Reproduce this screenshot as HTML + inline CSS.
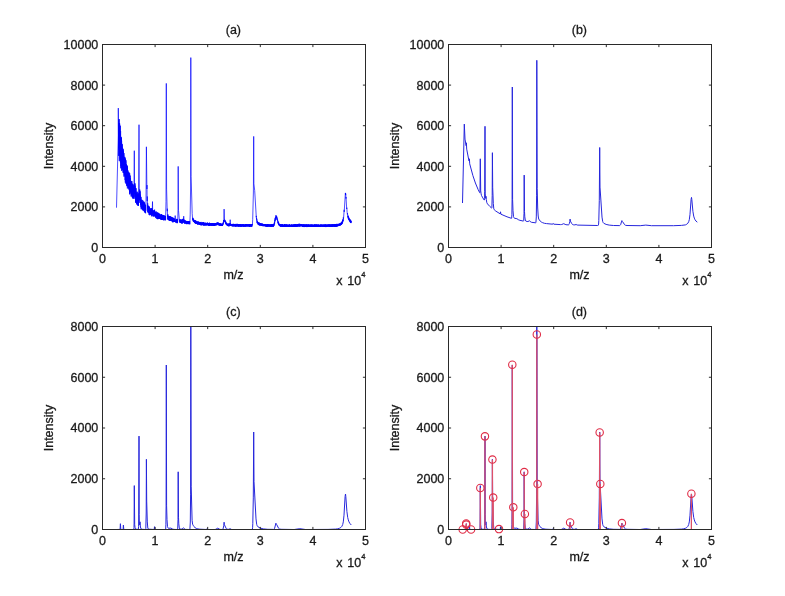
<!DOCTYPE html>
<html><head><meta charset="utf-8"><style>
html,body{margin:0;padding:0;background:#fff;width:785px;height:596px;overflow:hidden}
svg{display:block}
text{font-family:"Liberation Sans",Arial,Helvetica,sans-serif;fill:#1a1a1a;font-size:12.5px;stroke:#1a1a1a;stroke-width:0.3px}
.ax{fill:none;stroke:#2a2a2a;stroke-width:1}
.tk{stroke:#2a2a2a;stroke-width:1}
.cv{fill:none;stroke-width:1;stroke-linejoin:round}
.st{stroke:#de5068;stroke-width:1.3}
.mk{fill:none;stroke:#e02c46;stroke-width:1.1}
</style></head><body>
<svg width="785" height="596" viewBox="0 0 785 596">
<defs>
<clipPath id="ca"><rect x="102.5" y="44.5" width="263" height="203"/></clipPath>
<clipPath id="cb"><rect x="448.5" y="44.5" width="263" height="203"/></clipPath>
<clipPath id="cc"><rect x="102.5" y="326.5" width="263" height="203"/></clipPath>
<clipPath id="cd"><rect x="448.5" y="326.5" width="263" height="203"/></clipPath>
</defs>
<rect width="785" height="596" fill="#fff"/>
<path class="cv" style="stroke-width:0.7" clip-path="url(#ca)" stroke="#0000ff" d="M116.5 207.7L118.3 135.5L118.3 108.1L118.6 155.9L118.7 123.6L118.7 148.0L118.8 119.3L119.0 149.7L119.2 119.1L119.3 161.0L119.3 123.5L119.4 155.6L119.6 123.2L119.6 149.1L119.7 124.6L119.8 153.5L120.0 134.0L120.0 159.5L120.2 133.7L120.4 162.1L120.4 125.8L120.4 162.2L120.6 131.1L120.7 168.3L120.8 146.0L120.9 166.2L121.0 145.4L121.1 162.9L121.4 136.9L121.5 170.8L121.5 138.1L121.5 162.0L121.6 140.6L121.8 164.7L121.9 146.8L121.9 166.3L122.1 144.6L122.1 168.1L122.2 143.9L122.3 168.2L122.4 148.8L122.5 170.2L122.7 148.1L123.0 172.8L123.3 150.8L123.3 171.6L123.4 149.2L123.4 169.8L123.5 152.4L123.6 170.4L123.6 154.8L123.8 172.4L123.8 156.7L123.8 173.0L124.0 153.1L124.1 176.9L124.2 158.8L124.2 175.8L124.3 158.5L124.4 174.5L124.4 157.5L124.5 170.7L124.7 157.4L124.8 171.5L124.8 156.9L124.9 174.4L125.1 158.6L125.1 180.1L125.2 160.1L125.3 182.6L125.4 158.6L125.5 180.1L125.7 161.5L125.9 183.6L126.0 160.2L126.0 181.3L126.1 166.9L126.4 184.2L126.4 166.4L126.4 183.4L126.5 164.2L126.5 180.8L126.5 166.4L126.7 182.5L126.8 165.5L126.8 185.8L127.0 166.5L127.0 186.2L127.1 170.1L127.2 184.8L127.3 167.5L127.4 188.5L127.4 165.7L127.5 183.1L127.5 169.9L127.7 184.5L127.8 170.0L127.9 186.2L128.1 171.3L128.3 183.2L128.3 172.1L128.3 187.9L128.4 173.6L128.6 188.0L128.6 176.7L128.7 189.2L128.8 173.0L129.0 188.2L129.1 172.4L129.2 190.2L129.3 178.8L129.5 191.3L129.5 174.4L129.6 194.4L129.7 173.3L129.8 193.8L129.9 176.0L130.0 191.3L130.1 175.4L130.4 191.7L130.4 178.8L130.5 192.0L130.5 178.0L130.8 193.1L131.1 180.9L131.1 196.5L131.2 181.3L131.2 194.5L131.3 183.2L131.4 194.0L131.6 183.2L131.9 195.4L131.9 181.1L132.0 196.3L132.1 184.3L132.2 197.3L132.4 183.7L132.4 192.9L132.6 185.2L132.7 198.3L132.9 188.7L133.1 198.6L133.1 184.9L133.2 198.2L133.2 184.3L133.4 196.7L133.5 186.5L133.7 198.7L133.9 186.8L133.9 197.1L134.3 150.7L134.6 190.9L134.7 188.7L134.7 194.1L134.7 185.1L134.8 192.7L134.8 183.0L134.9 196.5L134.9 183.8L135.0 199.0L135.1 185.9L135.2 198.0L135.3 188.9L135.5 202.6L135.6 188.0L135.7 202.3L135.7 188.5L135.9 201.7L136.0 188.2L136.2 202.9L136.3 193.1L136.6 203.9L136.6 192.4L136.6 203.0L136.7 194.5L136.9 204.7L137.0 191.5L137.3 203.3L137.3 194.1L137.3 204.2L137.3 194.4L137.4 202.5L137.7 192.2L137.7 205.5L137.7 195.4L137.8 204.7L138.0 196.1L138.0 204.8L138.1 194.7L138.1 205.8L138.2 194.4L138.3 203.7L138.4 193.2L138.5 205.9L139.0 124.7L139.3 198.1L139.5 191.3L139.6 199.9L139.7 189.4L139.8 203.0L139.9 192.0L139.9 200.5L140.1 190.8L140.2 201.9L140.3 194.6L140.5 203.8L140.5 196.3L140.6 204.8L140.6 197.5L140.7 205.2L140.8 199.5L140.9 207.2L141.1 196.9L141.2 209.3L141.3 200.0L141.4 208.4L141.7 199.8L141.8 208.5L142.0 201.8L142.2 208.2L142.2 199.9L142.3 209.5L142.4 202.9L142.7 209.9L142.8 200.3L143.0 210.1L143.2 202.8L143.2 210.9L143.4 201.9L143.5 210.0L143.5 201.4L143.5 210.2L143.7 202.7L143.8 210.1L143.9 204.3L143.9 209.9L144.1 204.6L144.2 211.0L144.3 203.0L144.4 212.0L144.4 201.8L144.5 212.3L144.6 203.2L144.7 210.9L144.9 203.8L145.0 210.9L145.2 205.0L145.3 213.0L145.3 205.9L145.3 212.7L145.4 206.6L145.6 213.3L145.6 204.9L145.8 210.7L146.0 202.0L146.4 146.8L146.9 189.0L147.0 185.1L147.1 198.7L147.2 201.0L147.3 196.5L147.6 208.2L147.7 203.3L147.9 211.6L147.9 205.8L147.9 212.4L148.0 205.5L148.1 212.0L148.3 206.7L148.3 212.8L148.4 206.0L148.6 212.8L148.8 206.2L149.0 213.1L149.0 206.5L149.1 214.7L149.2 208.0L149.3 214.8L149.5 206.9L149.7 215.3L149.7 208.1L149.9 212.7L150.0 208.9L150.0 215.0L150.1 208.6L150.2 214.8L150.2 209.2L150.5 213.6L150.6 210.2L150.7 213.3L150.9 208.4L151.0 215.1L151.1 208.3L151.3 213.9L151.4 208.6L151.5 215.7L151.8 208.5L151.9 216.5L152.0 208.6L152.1 215.6L152.5 201.6L152.7 213.7L152.7 210.0L152.7 214.3L152.9 210.6L153.0 215.8L153.1 210.4L153.2 215.7L153.3 211.0L153.4 216.6L153.7 210.7L153.7 215.9L153.8 212.0L153.9 215.8L154.0 210.8L154.0 215.7L154.1 211.0L154.2 216.6L154.4 210.1L154.4 215.3L154.6 209.6L154.8 216.3L155.0 211.8L155.1 215.6L155.2 212.6L155.3 215.4L155.4 212.3L155.5 217.5L155.5 212.5L155.6 217.0L155.7 211.7L155.9 218.1L156.2 211.4L156.2 215.8L156.3 212.8L156.4 216.5L156.4 213.0L156.6 216.6L156.6 213.1L156.8 217.7L156.9 212.4L156.9 219.0L157.0 213.4L157.2 218.6L157.3 212.5L157.4 218.7L157.7 213.6L157.8 219.3L157.8 212.5L157.9 218.5L158.1 212.9L158.2 218.4L158.2 213.5L158.4 218.9L158.5 214.1L158.5 218.8L158.8 213.1L158.9 218.7L159.0 213.9L159.1 218.5L159.2 214.0L159.3 219.0L159.5 214.3L159.6 218.2L159.6 213.7L159.7 218.7L159.8 214.6L160.0 218.4L160.2 214.9L160.2 218.9L160.3 214.8L160.4 218.6L160.5 214.6L160.6 219.3L160.8 215.0L161.0 219.5L161.0 215.8L161.1 219.6L161.2 214.1L161.4 219.4L161.5 214.7L161.5 219.7L161.6 215.1L161.6 219.9L161.7 214.4L161.7 219.7L161.7 214.5L161.8 219.3L162.1 215.0L162.1 219.4L162.3 215.0L162.5 219.6L162.6 215.8L162.9 219.7L163.0 215.1L163.0 220.0L163.3 217.1L163.3 219.4L163.4 216.3L163.4 220.1L163.5 215.4L163.5 220.3L163.7 215.5L163.8 220.0L163.8 215.7L163.8 219.2L164.1 215.9L164.2 219.9L164.2 215.3L164.5 219.1L164.6 216.4L164.7 219.8L164.9 216.2L165.0 220.5L165.1 216.4L165.3 220.2L165.4 216.1L165.5 219.5L165.5 215.9L165.6 219.9L166.0 201.3L166.3 83.4L166.6 189.1L167.2 209.9L167.3 211.2L167.3 208.7L167.6 216.9L167.8 214.6L167.9 219.1L167.9 214.6L167.9 219.9L168.0 216.5L168.1 219.1L168.4 216.4L168.5 219.4L168.5 216.9L168.5 219.7L168.7 216.1L168.8 220.5L168.8 216.8L168.9 219.9L168.9 216.6L169.2 219.9L169.3 216.5L169.5 220.7L169.5 216.3L169.7 220.7L169.8 216.2L169.9 220.5L170.0 216.2L170.0 220.1L170.0 217.3L170.1 220.3L170.2 217.6L170.2 220.9L170.4 216.4L170.6 220.6L170.7 217.0L170.8 220.6L171.0 217.3L171.1 220.3L171.1 216.8L171.2 220.9L171.2 216.9L171.4 221.1L171.5 217.2L171.5 221.0L171.7 217.4L171.8 221.1L172.0 217.3L172.0 220.9L172.2 217.7L172.2 221.4L172.3 217.8L172.3 221.4L172.4 218.1L172.7 221.0L172.7 218.2L172.8 222.3L172.8 217.6L172.9 222.2L173.0 217.7L173.2 222.1L173.2 218.3L173.4 221.4L173.6 218.4L173.7 221.5L173.7 218.5L174.1 221.9L174.1 218.5L174.1 221.7L174.3 218.6L174.5 221.4L174.5 219.2L174.6 221.6L174.6 219.3L174.9 222.0L175.2 215.6L175.5 222.3L175.6 220.0L175.6 222.3L175.8 219.9L176.0 222.2L176.1 219.8L176.2 221.7L176.2 219.4L176.3 222.5L176.5 219.5L176.8 223.1L176.9 218.8L177.1 222.3L177.1 219.4L177.3 222.2L177.3 219.3L177.3 223.2L177.4 219.5L177.5 223.0L177.5 220.4L177.6 222.2L177.8 219.3L178.0 209.9L178.2 166.4L178.5 210.4L179.5 221.5L179.8 219.4L179.9 222.5L180.0 219.7L180.1 222.8L180.3 219.6L180.3 222.5L180.4 219.7L180.6 222.6L180.7 219.9L180.7 222.6L180.8 219.8L181.1 223.1L181.1 220.0L181.2 222.6L181.4 220.5L181.6 223.3L181.8 219.7L181.8 223.2L182.0 219.6L182.1 223.3L182.1 219.6L182.1 223.4L182.2 219.7L182.3 223.3L182.5 219.7L182.6 222.9L182.9 219.1L183.0 222.5L183.1 218.7L183.1 222.3L183.3 219.4L183.4 222.5L183.7 216.2L184.1 223.1L184.3 219.6L184.3 222.2L184.5 220.0L184.7 223.1L184.8 220.1L184.8 223.7L184.9 220.4L184.9 223.7L185.1 220.6L185.1 222.7L185.2 221.1L185.5 222.2L185.5 220.8L185.7 223.5L185.7 221.3L186.0 223.3L186.0 221.4L186.1 223.3L186.2 221.4L186.4 224.2L186.6 220.9L186.6 223.7L186.9 221.1L186.9 223.8L187.0 222.2L187.1 223.9L187.2 221.8L187.2 223.6L187.2 221.1L187.3 223.9L187.4 221.5L187.6 223.2L187.7 221.3L187.8 223.9L187.9 221.4L188.1 224.3L188.2 221.1L188.2 224.0L188.3 221.5L188.4 223.9L188.4 221.6L188.5 223.8L188.8 221.2L188.9 223.7L188.9 221.4L189.0 224.0L189.2 221.5L189.3 223.7L189.4 221.8L189.6 224.2L189.7 221.1L189.8 224.3L190.2 214.9L190.6 187.0L190.8 57.6L191.1 176.4L192.2 213.7L192.7 219.8L192.9 217.8L192.9 220.1L192.9 218.0L193.1 221.1L193.2 218.9L193.4 221.6L193.4 219.0L193.7 222.0L193.8 220.0L193.9 222.0L194.1 220.0L194.1 221.9L194.1 219.8L194.3 221.8L194.4 220.2L194.4 222.7L194.5 220.3L194.6 222.5L194.6 220.1L194.8 223.1L195.0 221.1L195.2 223.2L195.2 220.7L195.3 222.9L195.3 220.7L195.4 223.2L195.7 220.1L195.7 223.8L195.8 221.7L195.8 223.5L196.0 222.0L196.0 223.3L196.1 221.3L196.3 223.8L196.4 221.4L196.4 223.5L196.7 221.3L196.8 223.8L196.9 222.0L196.9 223.3L197.2 221.9L197.2 223.6L197.2 221.8L197.4 224.3L197.5 221.8L197.5 224.5L197.7 221.6L197.7 223.6L197.7 221.9L198.0 223.9L198.0 221.6L198.1 224.6L198.2 222.0L198.2 223.9L198.3 222.0L198.4 223.9L198.5 221.8L198.7 224.4L198.7 221.8L198.8 224.3L198.8 221.8L198.9 224.2L199.0 222.0L199.1 224.2L199.2 222.4L199.4 224.3L199.5 222.5L199.6 224.4L199.6 222.3L199.8 223.9L199.8 222.6L199.8 224.9L199.9 222.3L200.1 224.7L200.2 222.2L200.3 224.8L200.3 222.3L200.6 224.4L200.7 222.4L200.7 224.8L200.8 222.3L201.0 225.4L201.1 221.9L201.3 225.4L201.5 222.7L201.6 224.5L201.7 222.8L202.0 224.5L202.2 223.1L202.2 224.9L202.4 222.4L202.5 224.7L202.7 222.8L202.8 225.0L202.8 222.6L203.0 224.8L203.0 222.5L203.1 225.2L203.2 222.7L203.2 225.5L203.3 222.4L203.4 225.3L203.4 222.8L203.5 225.1L203.6 222.6L203.7 224.9L203.8 222.6L204.0 225.3L204.1 222.6L204.2 225.3L204.3 222.9L204.4 225.1L204.4 223.3L204.6 224.6L204.7 223.5L204.7 225.5L204.9 223.3L205.1 225.4L205.1 223.1L205.2 225.2L205.3 222.9L205.4 224.9L205.4 222.7L205.6 225.2L205.7 223.5L205.8 225.4L205.9 222.9L206.1 224.9L206.2 223.4L206.2 225.1L206.3 223.2L206.4 225.4L206.5 223.0L206.6 225.3L206.9 223.1L207.0 224.7L207.3 222.4L207.3 225.1L207.5 222.9L207.6 224.8L207.6 223.1L207.7 224.8L207.8 223.3L208.0 225.1L208.0 223.5L208.0 225.7L208.1 223.4L208.3 225.5L208.4 223.5L208.5 225.5L208.5 223.6L208.6 225.2L208.8 223.4L209.0 225.1L209.1 223.4L209.1 225.7L209.2 222.9L209.2 225.1L209.2 223.4L209.4 225.7L209.4 223.2L209.5 225.6L209.5 222.7L209.5 225.7L209.8 223.0L209.8 225.2L209.9 223.1L209.9 224.7L210.1 223.4L210.3 225.3L210.5 223.9L210.8 225.7L210.8 223.5L210.9 225.7L210.9 223.2L211.0 225.7L211.1 223.1L211.2 225.2L211.3 223.3L211.4 225.5L211.6 223.2L211.6 225.7L211.7 223.3L211.8 224.9L211.9 223.4L212.0 225.0L212.3 223.2L212.4 225.5L212.5 223.4L212.7 225.7L212.7 223.3L212.8 225.7L213.0 223.9L213.1 225.7L213.1 223.8L213.2 225.7L213.5 223.4L213.6 225.8L213.7 223.2L213.8 225.8L214.0 223.3L214.0 225.9L214.1 224.2L214.1 225.8L214.2 224.2L214.3 225.6L214.3 223.4L214.4 225.3L214.4 223.6L214.5 225.5L214.6 223.4L214.8 225.8L214.8 223.6L215.1 225.9L215.4 223.3L215.4 224.7L215.6 223.4L215.7 224.9L215.8 223.2L215.9 225.4L215.9 223.7L216.1 225.2L216.2 223.1L216.5 225.2L216.8 222.7L216.9 225.2L217.1 222.6L217.2 225.0L217.3 223.0L217.4 224.0L217.5 222.8L217.6 224.1L217.6 222.7L217.8 224.8L217.9 222.6L218.1 224.4L218.2 222.4L218.4 225.3L218.6 223.3L218.8 225.2L218.9 223.4L219.0 225.2L219.0 223.2L219.0 225.0L219.1 223.5L219.3 224.9L219.3 223.3L219.5 224.9L219.5 223.3L219.7 225.7L219.8 223.5L219.9 225.7L220.0 223.4L220.2 225.9L220.2 223.3L220.3 225.8L220.4 223.6L220.5 225.8L220.6 223.6L220.9 225.8L221.1 223.9L221.4 226.0L221.6 223.6L221.9 225.9L222.0 223.8L222.1 225.7L222.1 224.0L222.3 225.6L222.4 223.8L222.4 226.0L222.4 223.9L222.6 225.6L222.9 223.4L223.0 225.0L223.1 222.7L223.3 223.9L223.4 222.1L223.4 223.2L223.5 220.7L223.6 222.6L223.7 220.0L223.7 222.3L223.8 220.0L223.8 221.3L224.1 209.1L224.5 221.3L224.6 219.5L224.7 221.6L224.9 220.3L225.0 222.1L225.2 220.4L225.5 223.3L225.6 221.0L225.9 224.0L226.0 222.3L226.2 224.3L226.2 222.5L226.2 224.6L226.2 223.0L226.5 224.9L226.7 223.1L226.7 225.0L227.0 223.7L227.1 225.6L227.2 223.8L227.3 225.5L227.6 223.8L227.6 226.0L227.8 223.9L227.9 225.9L228.1 224.0L228.2 226.1L228.2 223.7L228.3 226.1L228.4 223.8L228.7 226.1L228.9 223.8L228.9 226.2L229.0 223.5L229.1 226.3L229.2 223.9L229.3 225.8L229.4 224.2L229.5 225.0L229.6 223.7L229.6 224.9L229.6 223.7L229.7 225.0L229.8 223.4L229.9 225.4L230.2 219.7L230.5 225.4L230.5 223.6L230.6 225.6L230.8 223.8L230.9 225.9L230.9 224.2L231.1 225.7L231.1 224.4L231.2 225.8L231.4 224.2L231.6 225.8L231.7 224.0L231.9 226.3L232.0 224.6L232.2 225.8L232.4 224.2L232.4 225.9L232.5 224.1L232.8 226.4L232.9 223.9L232.9 226.2L233.0 225.4L233.1 226.5L233.3 223.8L233.4 226.2L233.4 224.3L233.6 226.0L233.6 224.9L233.8 226.0L233.8 224.1L234.1 226.1L234.1 224.1L234.2 226.4L234.4 224.1L234.5 226.2L234.6 224.2L234.8 226.0L234.8 224.2L234.9 226.4L235.0 224.2L235.2 225.9L235.2 223.9L235.4 226.5L235.5 224.2L235.7 226.5L235.8 224.3L235.8 226.5L235.9 224.9L236.1 226.2L236.2 224.5L236.3 226.2L236.4 224.4L236.4 226.3L236.5 224.6L236.8 226.2L237.0 223.8L237.1 226.6L237.1 223.9L237.2 225.7L237.5 224.1L237.6 226.3L237.6 224.8L237.8 226.1L237.9 224.6L238.0 226.0L238.1 224.8L238.2 226.5L238.3 224.0L238.3 226.5L238.5 224.0L238.5 226.6L238.6 224.2L238.8 226.4L239.1 224.2L239.3 226.4L239.3 224.1L239.4 226.3L239.8 224.5L239.9 226.7L240.1 224.1L240.1 226.6L240.2 224.4L240.3 226.5L240.4 224.1L240.5 226.3L240.7 224.1L240.7 226.4L240.7 224.4L240.9 226.4L241.0 224.9L241.1 226.3L241.3 224.2L241.5 226.6L241.5 224.9L241.7 226.2L241.8 224.6L241.9 226.3L242.0 224.3L242.0 226.6L242.1 224.8L242.2 226.5L242.3 224.4L242.4 226.1L242.5 224.8L242.5 226.0L242.7 224.9L242.8 226.2L242.8 224.3L243.0 226.4L243.2 224.3L243.4 226.6L243.5 224.6L243.7 226.4L243.8 224.3L243.8 226.6L243.9 224.4L244.0 226.7L244.0 224.8L244.3 226.2L244.5 225.1L244.5 226.4L244.7 224.8L244.7 226.2L244.7 225.2L244.9 226.2L244.9 224.4L245.0 226.5L245.2 224.2L245.2 226.6L245.5 224.2L245.6 226.5L245.7 224.6L245.8 226.3L245.8 224.7L246.0 225.9L246.1 224.3L246.1 226.5L246.3 224.1L246.4 226.2L246.7 224.2L246.8 226.5L247.0 224.5L247.1 226.5L247.2 224.3L247.3 226.0L247.4 224.9L247.5 226.0L247.6 224.5L247.7 226.3L247.8 224.5L247.9 226.5L248.1 224.2L248.3 226.5L248.6 224.6L248.6 226.0L248.6 224.4L248.9 226.6L249.0 224.5L249.2 226.3L249.2 224.2L249.4 226.5L249.6 224.2L249.6 226.8L249.7 224.2L249.8 226.7L250.0 224.3L250.0 226.5L250.2 224.6L250.4 226.5L250.4 224.3L250.5 226.5L250.6 224.9L250.7 226.0L250.8 224.8L250.9 225.7L251.0 224.7L251.0 226.6L251.4 224.4L251.5 226.8L251.6 224.2L251.7 226.4L251.9 224.5L252.0 226.5L252.3 224.0L252.4 224.9L252.7 219.5L253.4 192.0L253.7 136.4L253.9 183.8L254.7 190.6L256.3 217.4L256.3 215.9L256.5 219.3L256.6 218.0L256.7 220.6L256.8 219.1L257.1 222.6L257.2 220.8L257.2 223.2L257.4 221.3L257.4 222.9L257.6 221.8L257.8 224.2L258.1 222.5L258.1 224.5L258.2 222.5L258.5 224.4L258.5 222.7L258.6 224.8L258.7 222.6L258.7 225.0L258.8 222.9L258.9 224.8L259.0 222.7L259.0 224.9L259.1 222.6L259.3 225.4L259.4 223.2L259.4 225.4L259.7 223.3L259.9 225.4L260.1 223.1L260.4 225.6L260.6 223.3L260.6 224.9L260.8 223.6L260.9 225.2L261.0 223.7L261.0 225.3L261.1 223.5L261.2 225.7L261.2 223.8L261.2 225.7L261.3 223.7L261.5 225.5L261.7 224.1L261.8 225.7L262.0 223.7L262.1 225.8L262.3 223.7L262.3 225.8L262.3 223.8L262.6 226.2L262.8 223.8L263.1 226.0L263.2 224.7L263.4 225.9L263.4 224.3L263.5 225.7L263.6 224.9L263.6 226.2L263.8 224.3L263.9 226.1L264.1 224.3L264.2 226.0L264.2 224.4L264.3 226.2L264.6 224.3L264.6 225.7L264.7 224.2L264.9 226.2L265.2 224.3L265.3 226.3L265.6 224.0L265.8 226.4L265.8 224.4L265.9 226.5L266.1 224.7L266.2 226.7L266.3 224.6L266.5 226.5L266.6 224.4L266.6 226.3L266.7 224.7L266.9 226.4L267.2 224.5L267.3 226.5L267.4 224.7L267.4 226.6L267.4 224.2L267.5 226.2L267.6 224.4L267.9 226.6L267.9 224.1L268.0 226.8L268.1 224.6L268.2 226.0L268.3 224.4L268.3 226.2L268.5 224.8L268.7 225.9L268.7 224.8L268.9 226.8L269.1 224.4L269.2 226.5L269.2 224.5L269.2 226.4L269.5 224.4L269.6 226.3L269.7 225.0L269.8 226.3L270.0 224.9L270.1 226.6L270.3 224.8L270.4 226.5L270.5 224.5L270.6 226.8L270.6 224.5L270.6 226.4L270.7 224.7L271.0 226.3L271.1 225.0L271.2 226.4L271.5 224.2L271.5 227.0L271.6 224.4L271.8 226.7L271.8 224.7L272.0 226.6L272.1 224.5L272.1 226.0L272.3 224.6L272.4 226.4L272.6 224.5L272.6 226.2L272.9 224.7L273.0 226.8L273.1 224.6L273.1 226.7L273.2 224.3L273.3 226.5L273.4 224.8L273.4 226.3L273.7 224.5L273.8 225.9L273.8 223.8L273.8 225.8L273.9 223.8L274.1 225.3L274.4 222.3L274.5 224.1L274.5 221.9L274.6 223.7L274.8 220.4L274.8 221.8L275.0 219.7L275.0 220.9L275.2 218.3L275.2 220.3L275.3 217.9L275.4 219.6L275.4 217.1L275.7 218.1L276.0 215.0L276.1 217.4L276.2 216.2L276.3 217.8L276.4 216.4L276.6 218.3L276.7 216.4L277.0 219.6L277.0 217.5L277.1 219.8L277.2 218.7L277.6 221.4L277.6 219.6L278.0 222.7L278.1 221.6L278.2 223.6L278.2 221.5L278.3 223.4L278.3 222.1L278.4 223.5L278.5 222.6L278.5 224.4L278.6 222.3L278.8 225.0L278.9 223.9L279.2 225.5L279.2 223.7L279.3 225.3L279.4 223.9L279.4 225.7L279.5 224.3L279.8 226.1L279.9 224.2L280.1 226.2L280.1 224.3L280.3 226.4L280.3 224.6L280.5 226.3L280.6 224.9L280.6 226.5L280.8 224.1L280.8 226.6L280.9 224.7L281.2 226.6L281.2 224.4L281.3 226.4L281.5 224.8L281.6 226.7L281.8 224.4L281.9 226.5L282.0 224.4L282.1 226.2L282.2 224.6L282.5 226.2L282.5 224.6L282.6 226.8L282.7 224.6L282.8 226.6L282.9 224.6L282.9 226.4L282.9 224.6L283.1 226.6L283.1 225.0L283.2 226.4L283.4 224.9L283.4 226.6L283.5 225.0L283.5 226.6L283.8 225.3L283.9 226.8L284.0 224.9L284.0 226.6L284.1 224.8L284.2 226.4L284.2 224.5L284.3 226.4L284.5 224.5L284.5 227.0L284.6 224.4L284.7 226.7L284.9 224.5L285.0 226.9L285.0 224.4L285.1 227.0L285.2 224.3L285.3 226.8L285.4 224.9L285.5 226.4L285.7 224.9L285.8 226.4L285.9 224.9L286.0 226.5L286.0 224.9L286.1 226.6L286.3 224.9L286.4 226.9L286.5 225.0L286.5 226.8L286.6 224.5L286.7 227.0L286.7 224.4L286.8 226.4L286.8 224.7L286.9 226.6L287.1 225.0L287.2 226.9L287.3 224.7L287.3 226.2L287.4 224.9L287.7 226.4L287.9 224.7L287.9 226.6L288.1 224.8L288.1 226.4L288.2 225.1L288.2 226.5L288.4 225.2L288.5 226.7L288.6 224.7L288.8 226.8L289.2 224.8L289.2 226.7L289.3 224.6L289.4 227.0L289.4 224.4L289.5 226.8L289.7 224.4L289.8 226.5L289.9 225.2L290.0 226.1L290.1 225.2L290.2 226.4L290.4 225.1L290.4 226.9L290.7 224.7L290.8 226.4L290.9 225.1L291.0 226.4L291.1 224.9L291.1 226.5L291.3 224.7L291.5 226.5L291.7 224.5L291.7 226.7L291.8 224.6L291.9 226.6L292.1 224.8L292.2 226.6L292.3 225.0L292.4 226.7L292.4 224.8L292.6 226.6L292.9 224.8L292.9 226.5L293.0 224.7L293.1 226.7L293.2 225.3L293.2 226.7L293.3 224.8L293.3 226.2L293.5 224.8L293.6 226.9L293.6 224.9L293.8 226.4L293.8 224.7L293.9 226.6L294.0 224.5L294.0 227.0L294.2 224.4L294.2 226.7L294.4 224.6L294.4 226.3L294.6 224.8L294.8 226.9L294.9 224.4L295.1 227.0L295.2 224.3L295.2 227.0L295.3 224.4L295.4 226.2L295.4 224.6L295.4 226.1L295.5 224.7L295.5 226.2L295.5 224.8L295.7 226.4L295.9 225.1L295.9 226.6L295.9 224.7L296.0 226.6L296.0 224.8L296.1 226.4L296.2 224.7L296.4 226.6L296.4 224.5L296.6 226.5L296.6 224.7L296.7 226.7L296.8 224.2L297.1 226.6L297.2 224.9L297.4 226.1L297.5 224.3L297.5 226.5L297.6 224.2L297.7 226.5L297.9 224.4L297.9 226.2L297.9 224.1L298.1 226.3L298.2 225.1L298.4 226.1L298.5 224.8L298.7 226.1L298.7 224.1L298.9 226.4L299.0 223.8L299.0 226.7L299.2 223.8L299.3 226.2L299.3 224.1L299.3 226.2L299.4 224.3L299.5 226.2L299.5 224.1L299.6 226.1L299.7 224.0L299.8 226.2L299.9 223.9L300.1 226.2L300.1 224.5L300.1 225.9L300.2 224.5L300.4 226.1L300.6 224.2L300.6 226.3L300.6 224.3L300.9 226.2L301.0 224.4L301.2 226.2L301.2 224.5L301.2 226.2L301.5 224.3L301.5 226.0L301.6 224.1L301.9 226.4L302.1 224.5L302.4 226.4L302.5 224.9L302.5 226.4L302.6 224.8L302.6 226.7L302.7 224.2L302.7 226.7L302.8 225.0L302.9 226.4L302.9 224.9L303.1 226.3L303.3 224.8L303.4 226.7L303.5 224.5L303.6 226.8L303.6 224.6L303.8 226.4L303.9 224.6L304.1 227.1L304.2 224.4L304.2 226.6L304.4 224.8L304.5 226.4L304.6 224.7L304.6 226.6L304.7 224.7L304.8 226.4L304.8 224.9L305.1 226.6L305.1 225.2L305.2 226.9L305.3 225.1L305.5 227.0L305.6 224.6L305.8 226.8L305.9 224.6L305.9 226.9L305.9 224.7L306.0 226.2L306.1 224.7L306.1 226.4L306.2 224.6L306.2 226.9L306.3 224.6L306.4 226.4L306.5 224.8L306.6 226.6L306.7 224.9L306.9 227.1L307.1 224.5L307.2 226.7L307.2 225.0L307.4 226.4L307.5 224.7L307.7 226.8L308.0 224.3L308.0 226.8L308.2 224.5L308.2 226.8L308.2 225.2L308.2 226.9L308.5 224.9L308.5 226.7L308.7 224.7L308.7 226.9L308.8 224.6L308.9 226.4L309.1 225.1L309.1 226.5L309.3 224.8L309.3 226.6L309.4 224.8L309.4 225.8L309.5 224.9L309.7 225.9L309.8 225.1L309.9 226.8L310.0 225.1L310.1 226.9L310.1 224.6L310.2 226.8L310.2 224.8L310.4 226.6L310.6 224.7L310.6 226.7L310.8 224.9L311.0 226.5L311.0 224.7L311.2 226.8L311.3 224.5L311.4 226.6L311.4 224.8L311.6 226.6L311.7 224.7L311.8 226.6L311.9 224.9L312.1 226.4L312.2 224.8L312.5 226.6L312.5 224.8L312.7 226.9L312.8 224.6L313.0 226.9L313.0 224.6L313.2 226.9L313.2 225.2L313.5 226.7L313.6 224.9L313.7 226.7L313.8 224.8L313.8 226.5L314.1 225.0L314.3 226.6L314.3 224.6L314.5 227.0L314.6 224.5L314.6 226.8L314.7 224.8L314.8 226.7L314.8 224.8L314.9 226.7L315.0 224.7L315.2 226.3L315.2 224.7L315.2 227.0L315.3 224.6L315.4 227.0L315.7 224.8L315.7 226.5L315.7 224.8L315.8 226.7L315.9 225.0L316.1 226.6L316.1 224.8L316.1 226.4L316.3 224.8L316.4 226.6L316.5 224.7L316.7 226.6L316.7 224.5L316.8 226.8L316.9 224.8L317.1 226.5L317.2 224.5L317.3 226.9L317.4 224.7L317.6 226.6L317.8 224.9L317.9 226.6L318.0 225.0L318.1 226.8L318.3 224.6L318.4 226.4L318.6 224.6L318.6 226.7L318.7 224.9L318.8 226.7L318.9 224.7L319.2 226.6L319.2 224.9L319.2 226.5L319.4 225.0L319.4 226.3L319.5 224.9L319.6 226.6L319.8 224.9L319.8 226.7L319.8 225.1L319.9 226.6L319.9 225.4L320.1 226.6L320.3 224.7L320.4 226.7L320.5 224.6L320.7 226.7L320.7 225.1L320.8 226.6L320.8 224.9L320.9 226.0L321.1 224.7L321.1 226.9L321.2 224.7L321.2 226.1L321.3 224.6L321.3 226.1L321.4 224.9L321.6 226.5L321.6 225.2L321.8 226.3L322.0 224.5L322.3 226.5L322.4 224.8L322.4 226.7L322.6 224.7L322.6 226.5L322.8 225.2L323.0 226.6L323.1 225.0L323.1 226.5L323.3 224.5L323.6 226.7L323.6 225.4L323.7 226.0L323.7 224.8L323.8 226.5L323.9 224.8L324.0 226.7L324.1 224.7L324.2 226.3L324.3 224.7L324.3 227.0L324.4 224.8L324.7 226.4L324.8 224.7L324.8 226.5L324.9 224.8L325.0 226.6L325.2 224.9L325.2 226.6L325.3 224.6L325.4 227.0L325.5 224.9L325.8 227.1L325.8 224.3L325.9 227.0L326.0 224.4L326.1 226.9L326.2 225.3L326.4 226.7L326.5 224.9L326.5 226.8L326.9 224.7L327.2 226.0L327.2 224.7L327.3 226.5L327.3 224.8L327.5 226.5L327.6 224.8L327.6 226.6L327.8 225.0L327.9 226.4L327.9 224.7L328.0 226.6L328.2 224.4L328.3 226.3L328.4 224.7L328.7 226.9L328.8 224.5L328.9 226.3L328.9 224.7L329.1 226.4L329.3 224.4L329.5 226.8L329.7 224.9L329.8 226.9L329.8 224.4L329.9 226.7L330.0 224.6L330.1 226.5L330.2 224.9L330.2 226.4L330.2 224.9L330.3 226.4L330.4 225.8L330.5 226.4L330.5 224.8L330.8 226.9L330.9 224.5L331.0 227.0L331.0 224.6L331.3 226.8L331.3 224.6L331.4 226.7L331.7 224.4L331.7 226.7L331.8 224.6L331.9 226.7L332.2 224.6L332.4 226.5L332.5 224.5L332.5 226.6L332.6 224.6L332.6 226.5L332.7 224.6L333.0 226.4L333.0 224.6L333.1 226.2L333.3 224.7L333.3 226.5L333.5 224.7L333.7 226.5L333.8 224.4L333.8 226.4L333.9 224.3L334.0 226.5L334.3 224.4L334.3 226.7L334.4 224.3L334.4 226.0L334.6 224.6L334.7 226.5L334.8 224.3L334.9 226.6L335.1 224.4L335.1 226.7L335.1 224.9L335.3 226.5L335.4 224.3L335.4 226.2L335.6 224.3L335.7 226.7L335.8 224.0L336.0 226.4L336.2 224.5L336.2 226.3L336.2 224.6L336.3 226.4L336.4 224.7L336.5 226.5L336.7 224.5L336.7 225.9L336.8 223.9L336.9 226.7L336.9 223.9L337.1 226.3L337.2 224.5L337.4 226.0L337.4 224.2L337.5 225.9L337.5 224.1L337.6 226.3L337.6 224.0L337.7 226.1L337.8 224.4L338.0 225.9L338.2 223.8L338.3 226.1L338.4 223.9L338.4 225.5L338.5 224.3L338.6 225.8L338.7 224.2L338.9 225.8L339.1 223.9L339.2 225.7L339.3 223.9L339.6 225.7L339.7 223.5L339.8 225.2L340.0 223.6L340.0 225.3L340.1 223.5L340.1 225.5L340.2 223.7L340.3 225.2L340.4 223.5L340.5 225.1L340.6 223.7L340.6 225.1L340.9 223.6L341.0 224.9L341.2 222.4L341.3 224.9L341.4 222.5L341.4 224.6L341.6 222.4L341.8 224.2L341.9 221.8L342.0 223.8L342.1 222.0L342.2 223.5L342.2 221.4L342.3 223.2L342.4 221.2L342.6 222.1L342.6 220.2L342.7 222.2L342.7 220.2L342.8 221.1L342.8 219.8L343.0 221.3L343.1 219.0L343.1 220.7L343.3 217.4L343.5 218.9L344.2 209.8L344.2 211.9L345.4 192.9L345.5 194.9L345.5 193.1L345.6 195.0L345.7 193.6L346.0 198.5L346.0 197.1L346.7 208.9L346.8 207.7L347.1 212.1L347.4 214.5L347.5 213.1L347.9 217.0L348.0 215.5L348.2 218.0L348.2 216.4L348.3 218.8L348.3 216.3L348.5 219.4L348.6 218.0L348.6 219.3L348.6 217.7L348.8 219.0L348.9 217.6L349.0 220.1L349.1 218.4L349.2 220.3L349.2 218.9L349.4 220.5L349.5 219.2L349.5 220.8L349.5 219.2L349.7 221.3L349.8 219.7L349.9 221.7L350.0 219.7L350.3 222.1L350.3 219.8L350.4 222.6L350.5 219.8L350.6 222.6L350.6 220.9L350.6 222.5L350.8 220.8L350.8 222.5L351.0 220.7L351.0 223.1L351.3 221.1"/>
<path class="cv" clip-path="url(#cb)" stroke="#2626dc" d="M462.5 203.0L464.3 124.1L465.0 139.1L466.1 145.7L466.4 142.8L466.7 149.1L468.4 158.0L469.1 161.0L469.4 158.8L469.7 163.8L472.9 175.6L475.4 183.0L478.1 189.5L479.7 192.7L479.9 192.5L480.0 191.8L480.3 158.8L480.7 190.8L481.1 193.9L481.5 195.5L482.8 197.9L484.3 200.1L484.6 198.3L484.7 191.6L485.0 126.3L485.2 193.9L485.6 198.1L485.7 198.4L485.8 198.3L486.0 196.3L486.3 199.6L486.8 202.6L487.5 203.9L489.9 206.5L491.6 208.1L491.9 207.5L492.2 195.4L492.4 152.7L492.7 187.4L493.3 203.4L493.8 208.9L494.2 209.7L495.8 211.1L500.1 213.8L500.2 213.8L500.3 213.6L500.5 211.8L500.9 214.2L507.0 216.8L511.4 218.3L511.7 218.2L511.9 214.3L512.1 199.9L512.3 87.0L512.6 199.7L513.0 210.7L513.5 216.5L513.9 217.7L514.7 218.3L516.9 218.7L518.7 219.9L519.9 220.3L523.4 221.1L523.7 220.8L524.0 213.4L524.2 175.1L524.5 211.5L524.8 216.8L525.3 220.1L525.7 221.0L527.1 221.5L528.0 221.5L529.5 220.8L530.9 222.0L531.5 222.3L535.6 222.8L535.9 222.7L536.3 216.9L536.6 195.2L536.8 60.3L537.2 188.3L537.7 208.0L538.2 216.0L538.7 219.0L540.2 221.1L541.3 222.0L542.7 222.7L544.4 223.3L546.6 223.6L552.7 224.2L553.2 223.4L553.7 224.2L560.6 224.6L561.7 224.5L563.7 223.7L565.9 224.7L568.4 224.9L568.9 224.6L569.3 223.7L569.8 221.6L570.1 219.1L570.4 221.1L571.7 223.5L572.4 224.4L573.3 224.8L574.9 224.9L576.1 224.5L577.1 225.0L577.9 225.1L597.6 225.5L598.3 225.3L598.6 224.1L598.8 220.5L599.3 200.3L599.7 147.5L600.0 187.1L602.0 217.1L602.7 221.5L603.2 222.6L603.8 223.3L606.1 224.4L609.2 225.1L613.6 225.5L619.5 225.6L620.1 225.3L620.6 224.7L621.9 220.6L622.2 221.3L622.7 221.8L624.6 224.7L625.5 225.3L627.0 225.5L640.2 225.7L645.8 225.1L651.5 225.7L673.5 225.7L681.4 225.4L685.4 224.9L686.8 224.2L687.9 223.2L688.7 221.7L689.3 219.7L690.0 214.3L691.1 199.3L691.5 197.4L691.8 199.4L692.9 211.3L693.7 216.1L694.3 218.1L695.0 219.7L696.0 221.1L697.3 222.2"/>
<path class="cv" clip-path="url(#cc)" stroke="#2626dc" d="M116.5 529.5L120.1 529.4L120.4 523.7L120.8 529.5L123.1 529.5L123.4 525.1L123.8 529.5L133.4 529.5L133.8 529.3L134.0 527.6L134.1 523.1L134.3 485.6L134.7 524.7L135.1 527.8L135.5 528.9L136.1 529.2L138.1 529.4L138.4 529.0L138.6 526.6L138.7 518.0L139.0 436.1L139.2 514.7L139.3 522.0L139.6 524.9L139.7 525.0L139.8 524.7L140.0 521.8L140.3 526.0L140.7 528.1L141.1 528.9L142.2 529.3L145.5 529.5L145.7 529.3L145.8 528.7L146.2 513.0L146.4 459.3L146.7 501.1L147.3 521.9L147.8 528.1L148.1 528.8L149.2 529.2L154.2 529.5L154.5 526.7L154.9 529.5L165.4 529.5L165.7 529.2L165.9 524.3L166.1 506.2L166.3 365.0L166.6 505.8L167.0 519.4L167.5 526.5L167.9 527.8L168.6 528.3L170.9 528.1L172.7 529.1L173.9 529.4L177.4 529.5L177.7 529.1L178.0 519.7L178.2 471.8L178.5 517.2L178.8 523.8L179.3 527.9L179.7 528.9L181.0 529.2L182.0 529.1L183.5 527.9L184.9 529.1L185.5 529.4L189.6 529.5L189.9 529.3L190.3 522.0L190.6 494.9L190.8 326.2L191.2 486.2L192.1 520.3L192.6 524.2L193.1 525.2L193.9 526.5L195.0 527.6L196.3 528.4L197.9 528.9L199.9 529.2L206.7 529.5L207.2 528.5L207.7 529.5L214.7 529.5L215.8 529.3L217.7 528.2L219.9 529.4L222.4 529.5L222.9 529.1L223.3 528.0L223.8 525.3L224.1 522.2L224.4 524.7L226.1 528.3L226.6 528.9L227.3 529.2L228.8 529.3L230.1 528.7L231.1 529.3L231.8 529.5L251.7 529.5L252.3 529.3L252.6 527.8L252.8 523.3L253.3 497.9L253.7 432.0L254.0 481.5L256.0 518.9L256.7 524.4L257.2 525.8L257.8 526.7L260.1 528.0L263.2 528.9L267.6 529.3L273.6 529.4L274.1 529.1L274.6 528.3L275.9 523.2L276.2 524.0L276.7 524.6L278.6 528.3L279.5 529.0L281.0 529.3L294.2 529.5L299.8 528.7L305.5 529.5L328.0 529.4L335.6 529.1L337.8 528.8L339.4 528.3L340.8 527.5L341.9 526.3L342.7 524.5L343.3 521.9L344.0 515.2L345.1 496.4L345.5 494.0L345.8 496.5L346.9 511.4L347.7 517.4L348.3 519.9L349.0 521.9L350.0 523.6L351.3 525.0"/>
<path class="cv" clip-path="url(#cd)" stroke="#2626dc" d="M462.5 529.5L466.1 529.4L466.4 523.7L466.8 529.5L469.1 529.5L469.4 525.1L469.8 529.5L479.4 529.5L479.8 529.3L480.0 527.6L480.1 523.1L480.3 485.6L480.7 524.7L481.1 527.8L481.5 528.9L482.1 529.2L484.1 529.4L484.4 529.0L484.6 526.6L484.7 518.0L485.0 436.1L485.2 514.7L485.3 522.0L485.6 524.9L485.7 525.0L485.8 524.7L486.0 521.8L486.3 526.0L486.7 528.1L487.1 528.9L488.2 529.3L491.5 529.5L491.7 529.3L491.8 528.7L492.2 513.0L492.4 459.3L492.7 501.1L493.3 521.9L493.8 528.1L494.1 528.8L495.2 529.2L500.2 529.5L500.5 526.7L500.9 529.5L511.4 529.5L511.7 529.2L511.9 524.3L512.1 506.2L512.3 365.0L512.6 505.8L513.0 519.4L513.5 526.5L513.9 527.8L514.6 528.3L516.9 528.1L518.7 529.1L519.9 529.4L523.4 529.5L523.7 529.1L524.0 519.7L524.2 471.8L524.5 517.2L524.8 523.8L525.3 527.9L525.7 528.9L527.0 529.2L528.0 529.1L529.5 527.9L530.9 529.1L531.5 529.4L535.6 529.5L535.9 529.3L536.3 522.0L536.6 494.9L536.8 326.2L537.2 486.2L538.1 520.3L538.6 524.2L539.1 525.2L539.9 526.5L541.0 527.6L542.3 528.4L543.9 528.9L545.9 529.2L552.7 529.5L553.2 528.5L553.7 529.5L560.7 529.5L561.8 529.3L563.7 528.2L565.9 529.4L568.4 529.5L568.9 529.1L569.3 528.0L569.8 525.3L570.1 522.2L570.4 524.7L572.1 528.3L572.6 528.9L573.3 529.2L574.8 529.3L576.1 528.7L577.1 529.3L577.8 529.5L597.7 529.5L598.3 529.3L598.6 527.8L598.8 523.3L599.3 497.9L599.7 432.0L600.0 481.5L602.0 518.9L602.7 524.4L603.2 525.8L603.8 526.7L606.1 528.0L609.2 528.9L613.6 529.3L619.6 529.4L620.1 529.1L620.6 528.3L621.9 523.2L622.2 524.0L622.7 524.6L624.6 528.3L625.5 529.0L627.0 529.3L640.2 529.5L645.8 528.7L651.5 529.5L674.0 529.4L681.6 529.1L683.8 528.8L685.4 528.3L686.8 527.5L687.9 526.3L688.7 524.5L689.3 521.9L690.0 515.2L691.1 496.4L691.5 494.0L691.8 496.5L692.9 511.4L693.7 517.4L694.3 519.9L695.0 521.9L696.0 523.6L697.3 525.0"/>
<line class="st" x1="484.95" y1="529.5" x2="484.95" y2="436.37"/><circle class="mk" cx="484.95" cy="436.37" r="3.7"/>
<line class="st" x1="480.32" y1="529.5" x2="480.32" y2="488.01"/><circle class="mk" cx="480.32" cy="488.01" r="3.7"/>
<line class="st" x1="492.42" y1="529.5" x2="492.42" y2="459.59"/><circle class="mk" cx="492.42" cy="459.59" r="3.7"/>
<line class="st" x1="493.21" y1="529.5" x2="493.21" y2="497.58"/><circle class="mk" cx="493.21" cy="497.58" r="3.7"/>
<circle class="mk" cx="499.00" cy="529.12" r="3.7"/>
<line class="st" x1="513.30" y1="529.5" x2="513.30" y2="507.30"/><circle class="mk" cx="513.30" cy="507.30" r="3.7"/>
<line class="st" x1="524.24" y1="529.5" x2="524.24" y2="472.10"/><circle class="mk" cx="524.24" cy="472.10" r="3.7"/>
<line class="st" x1="524.88" y1="529.5" x2="524.88" y2="514.00"/><circle class="mk" cx="524.88" cy="514.00" r="3.7"/>
<line class="st" x1="537.60" y1="529.5" x2="537.60" y2="484.08"/><circle class="mk" cx="537.60" cy="484.08" r="3.7"/>
<line class="st" x1="512.30" y1="529.5" x2="512.30" y2="364.69"/><circle class="mk" cx="512.30" cy="364.69" r="3.7"/>
<line class="st" x1="536.82" y1="529.5" x2="536.82" y2="334.49"/><circle class="mk" cx="536.82" cy="334.49" r="3.7"/>
<line class="st" x1="570.11" y1="529.5" x2="570.11" y2="522.39"/><circle class="mk" cx="570.11" cy="522.39" r="3.7"/>
<line class="st" x1="599.67" y1="529.5" x2="599.67" y2="432.39"/><circle class="mk" cx="599.67" cy="432.39" r="3.7"/>
<line class="st" x1="600.30" y1="529.5" x2="600.30" y2="483.90"/><circle class="mk" cx="600.30" cy="483.90" r="3.7"/>
<line class="st" x1="621.92" y1="529.5" x2="621.92" y2="523.11"/><circle class="mk" cx="621.92" cy="523.11" r="3.7"/>
<line class="st" x1="691.38" y1="529.5" x2="691.38" y2="493.70"/><circle class="mk" cx="691.38" cy="493.70" r="3.7"/>
<line class="st" x1="466.21" y1="529.5" x2="466.21" y2="523.41"/><circle class="mk" cx="466.21" cy="523.41" r="3.7"/>
<line class="st" x1="466.21" y1="529.5" x2="466.21" y2="524.55"/><circle class="mk" cx="466.21" cy="524.55" r="3.7"/>
<circle class="mk" cx="462.70" cy="529.50" r="3.7"/>
<circle class="mk" cx="471.07" cy="529.50" r="3.7"/>
<rect class="ax" x="102.5" y="44.5" width="263" height="203"/>
<path class="tk" d="M102.50 247.5V244.9M102.50 44.5V47.1"/>
<text x="102.50" y="262.9" text-anchor="middle">0</text>
<path class="tk" d="M155.10 247.5V244.9M155.10 44.5V47.1"/>
<text x="155.10" y="262.9" text-anchor="middle">1</text>
<path class="tk" d="M207.70 247.5V244.9M207.70 44.5V47.1"/>
<text x="207.70" y="262.9" text-anchor="middle">2</text>
<path class="tk" d="M260.30 247.5V244.9M260.30 44.5V47.1"/>
<text x="260.30" y="262.9" text-anchor="middle">3</text>
<path class="tk" d="M312.90 247.5V244.9M312.90 44.5V47.1"/>
<text x="312.90" y="262.9" text-anchor="middle">4</text>
<path class="tk" d="M365.50 247.5V244.9M365.50 44.5V47.1"/>
<text x="365.50" y="262.9" text-anchor="middle">5</text>
<path class="tk" d="M102.5 247.50H105.1M365.5 247.50H362.9"/>
<text x="98.3" y="251.90" text-anchor="end">0</text>
<path class="tk" d="M102.5 206.90H105.1M365.5 206.90H362.9"/>
<text x="98.3" y="211.30" text-anchor="end">2000</text>
<path class="tk" d="M102.5 166.30H105.1M365.5 166.30H362.9"/>
<text x="98.3" y="170.70" text-anchor="end">4000</text>
<path class="tk" d="M102.5 125.70H105.1M365.5 125.70H362.9"/>
<text x="98.3" y="130.10" text-anchor="end">6000</text>
<path class="tk" d="M102.5 85.10H105.1M365.5 85.10H362.9"/>
<text x="98.3" y="89.50" text-anchor="end">8000</text>
<path class="tk" d="M102.5 44.50H105.1M365.5 44.50H362.9"/>
<text x="98.3" y="48.90" text-anchor="end">10000</text>
<text x="233.5" y="278.9" text-anchor="middle">m/z</text>
<text x="336.3" y="284.6">x</text>
<text x="365.5" y="284.6" text-anchor="end">10<tspan font-size="7.6" dy="-7.7">4</tspan></text>
<text transform="translate(53.2 146.0) rotate(-90)" text-anchor="middle">Intensity</text>
<text x="233.4" y="33.5" text-anchor="middle">(a)</text>
<rect class="ax" x="448.5" y="44.5" width="263" height="203"/>
<path class="tk" d="M448.50 247.5V244.9M448.50 44.5V47.1"/>
<text x="448.50" y="262.9" text-anchor="middle">0</text>
<path class="tk" d="M501.10 247.5V244.9M501.10 44.5V47.1"/>
<text x="501.10" y="262.9" text-anchor="middle">1</text>
<path class="tk" d="M553.70 247.5V244.9M553.70 44.5V47.1"/>
<text x="553.70" y="262.9" text-anchor="middle">2</text>
<path class="tk" d="M606.30 247.5V244.9M606.30 44.5V47.1"/>
<text x="606.30" y="262.9" text-anchor="middle">3</text>
<path class="tk" d="M658.90 247.5V244.9M658.90 44.5V47.1"/>
<text x="658.90" y="262.9" text-anchor="middle">4</text>
<path class="tk" d="M711.50 247.5V244.9M711.50 44.5V47.1"/>
<text x="711.50" y="262.9" text-anchor="middle">5</text>
<path class="tk" d="M448.5 247.50H451.1M711.5 247.50H708.9"/>
<text x="444.3" y="251.90" text-anchor="end">0</text>
<path class="tk" d="M448.5 206.90H451.1M711.5 206.90H708.9"/>
<text x="444.3" y="211.30" text-anchor="end">2000</text>
<path class="tk" d="M448.5 166.30H451.1M711.5 166.30H708.9"/>
<text x="444.3" y="170.70" text-anchor="end">4000</text>
<path class="tk" d="M448.5 125.70H451.1M711.5 125.70H708.9"/>
<text x="444.3" y="130.10" text-anchor="end">6000</text>
<path class="tk" d="M448.5 85.10H451.1M711.5 85.10H708.9"/>
<text x="444.3" y="89.50" text-anchor="end">8000</text>
<path class="tk" d="M448.5 44.50H451.1M711.5 44.50H708.9"/>
<text x="444.3" y="48.90" text-anchor="end">10000</text>
<text x="579.5" y="278.9" text-anchor="middle">m/z</text>
<text x="682.3" y="284.6">x</text>
<text x="711.5" y="284.6" text-anchor="end">10<tspan font-size="7.6" dy="-7.7">4</tspan></text>
<text transform="translate(399.2 146.0) rotate(-90)" text-anchor="middle">Intensity</text>
<text x="579.4" y="33.5" text-anchor="middle">(b)</text>
<rect class="ax" x="102.5" y="326.5" width="263" height="203"/>
<path class="tk" d="M102.50 529.5V526.9M102.50 326.5V329.1"/>
<text x="102.50" y="544.9" text-anchor="middle">0</text>
<path class="tk" d="M155.10 529.5V526.9M155.10 326.5V329.1"/>
<text x="155.10" y="544.9" text-anchor="middle">1</text>
<path class="tk" d="M207.70 529.5V526.9M207.70 326.5V329.1"/>
<text x="207.70" y="544.9" text-anchor="middle">2</text>
<path class="tk" d="M260.30 529.5V526.9M260.30 326.5V329.1"/>
<text x="260.30" y="544.9" text-anchor="middle">3</text>
<path class="tk" d="M312.90 529.5V526.9M312.90 326.5V329.1"/>
<text x="312.90" y="544.9" text-anchor="middle">4</text>
<path class="tk" d="M365.50 529.5V526.9M365.50 326.5V329.1"/>
<text x="365.50" y="544.9" text-anchor="middle">5</text>
<path class="tk" d="M102.5 529.50H105.1M365.5 529.50H362.9"/>
<text x="98.3" y="533.90" text-anchor="end">0</text>
<path class="tk" d="M102.5 478.75H105.1M365.5 478.75H362.9"/>
<text x="98.3" y="483.15" text-anchor="end">2000</text>
<path class="tk" d="M102.5 428.00H105.1M365.5 428.00H362.9"/>
<text x="98.3" y="432.40" text-anchor="end">4000</text>
<path class="tk" d="M102.5 377.25H105.1M365.5 377.25H362.9"/>
<text x="98.3" y="381.65" text-anchor="end">6000</text>
<path class="tk" d="M102.5 326.50H105.1M365.5 326.50H362.9"/>
<text x="98.3" y="330.90" text-anchor="end">8000</text>
<text x="233.5" y="560.9" text-anchor="middle">m/z</text>
<text x="336.3" y="566.6">x</text>
<text x="365.5" y="566.6" text-anchor="end">10<tspan font-size="7.6" dy="-7.7">4</tspan></text>
<text transform="translate(53.2 428.0) rotate(-90)" text-anchor="middle">Intensity</text>
<text x="233.4" y="315.5" text-anchor="middle">(c)</text>
<rect class="ax" x="448.5" y="326.5" width="263" height="203"/>
<path class="tk" d="M448.50 529.5V526.9M448.50 326.5V329.1"/>
<text x="448.50" y="544.9" text-anchor="middle">0</text>
<path class="tk" d="M501.10 529.5V526.9M501.10 326.5V329.1"/>
<text x="501.10" y="544.9" text-anchor="middle">1</text>
<path class="tk" d="M553.70 529.5V526.9M553.70 326.5V329.1"/>
<text x="553.70" y="544.9" text-anchor="middle">2</text>
<path class="tk" d="M606.30 529.5V526.9M606.30 326.5V329.1"/>
<text x="606.30" y="544.9" text-anchor="middle">3</text>
<path class="tk" d="M658.90 529.5V526.9M658.90 326.5V329.1"/>
<text x="658.90" y="544.9" text-anchor="middle">4</text>
<path class="tk" d="M711.50 529.5V526.9M711.50 326.5V329.1"/>
<text x="711.50" y="544.9" text-anchor="middle">5</text>
<path class="tk" d="M448.5 529.50H451.1M711.5 529.50H708.9"/>
<text x="444.3" y="533.90" text-anchor="end">0</text>
<path class="tk" d="M448.5 478.75H451.1M711.5 478.75H708.9"/>
<text x="444.3" y="483.15" text-anchor="end">2000</text>
<path class="tk" d="M448.5 428.00H451.1M711.5 428.00H708.9"/>
<text x="444.3" y="432.40" text-anchor="end">4000</text>
<path class="tk" d="M448.5 377.25H451.1M711.5 377.25H708.9"/>
<text x="444.3" y="381.65" text-anchor="end">6000</text>
<path class="tk" d="M448.5 326.50H451.1M711.5 326.50H708.9"/>
<text x="444.3" y="330.90" text-anchor="end">8000</text>
<text x="579.5" y="560.9" text-anchor="middle">m/z</text>
<text x="682.3" y="566.6">x</text>
<text x="711.5" y="566.6" text-anchor="end">10<tspan font-size="7.6" dy="-7.7">4</tspan></text>
<text transform="translate(399.2 428.0) rotate(-90)" text-anchor="middle">Intensity</text>
<text x="579.4" y="315.5" text-anchor="middle">(d)</text>
</svg>
</body></html>
